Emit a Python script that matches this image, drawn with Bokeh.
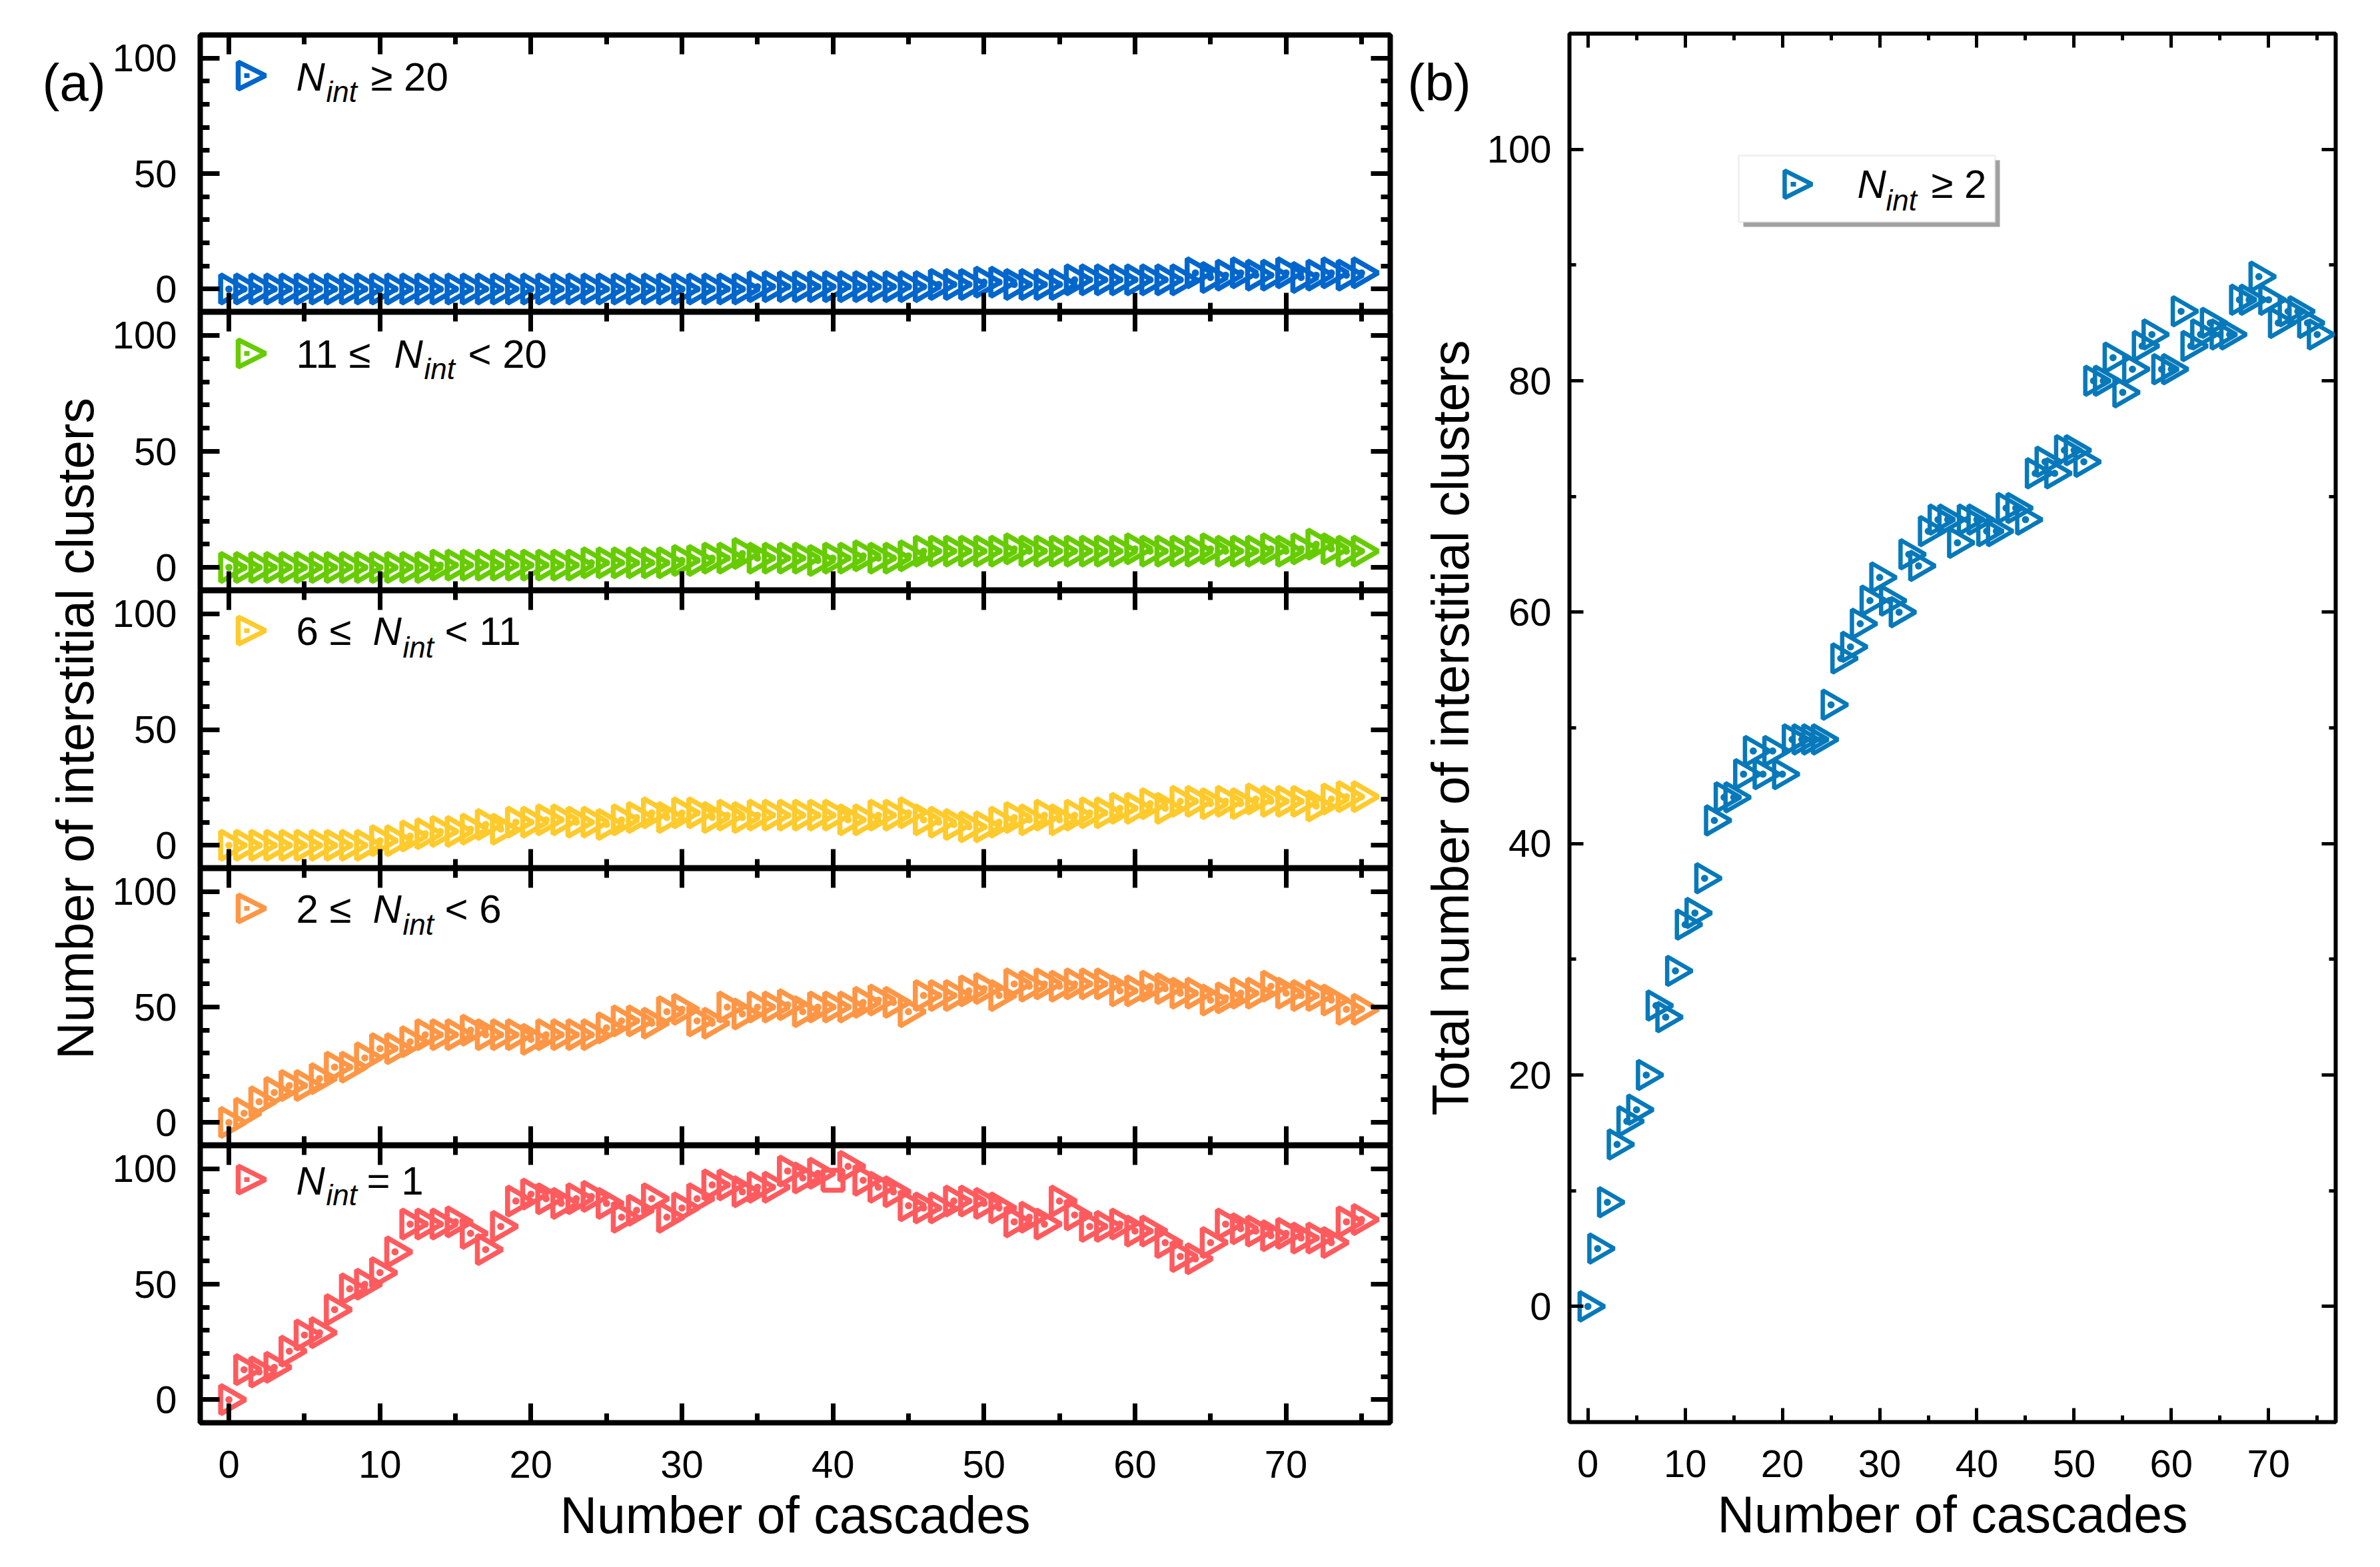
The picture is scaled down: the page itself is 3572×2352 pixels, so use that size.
import numpy as np
from bokeh.plotting import figure
from bokeh.models import (ColumnDataSource, Range1d, LinearAxis, FixedTicker, Label,
                          Arrow, NormalHead, BoxAnnotation)
from bokeh.layouts import row, column
from bokeh.embed import file_html
from bokeh.resources import INLINE

# ---------------- data ----------------
cascades = list(range(76))

n_ge20 = ([0] * 35 + [1] * 12 + [2] * 3 + [3] * 2 + [2] * 4 + [4] * 8 +
          [7, 5, 6, 7, 6, 6, 7, 5, 6, 7, 6, 7])

n_11_20 = ([0] * 14 + [1] * 10 + [2] * 6 + [3, 3, 4, 4, 6] +
           [4, 4, 4, 4, 3, 4, 4, 5, 4, 4, 5] + [7, 7, 7, 7, 7, 7, 8] +
           [7, 7, 7, 7, 7, 7, 7, 8, 7, 7, 7, 7, 8, 7, 7, 7, 8, 7, 8] + [10, 8, 7, 7])

n_6_11 = [0, 0, 0, 0, 0, 0, 0, 0, 0, 0,
          2, 2, 4, 5, 6, 6, 7, 9, 7, 10,
          10, 11, 11, 10, 10, 9, 11, 12, 14, 12,
          14, 14, 12, 13, 12, 13, 13, 13, 13, 13,
          13, 11, 11, 13, 13, 14, 11, 10, 9, 8,
          8, 10, 12, 11, 13, 11, 13, 14, 14, 16,
          16, 18, 16, 19, 19, 18, 19, 18, 20, 19,
          19, 19, 17, 20, 21, 21]

n_2_6 = [0, 4, 9, 13, 16, 16, 19, 24, 24, 28,
         32, 32, 35, 38, 38, 38, 40, 38, 38, 38,
         36, 38, 38, 38, 38, 41, 44, 44, 43, 48,
         49, 44, 43, 50, 47, 50, 50, 51, 48, 50,
         50, 50, 52, 53, 52, 48, 55, 55, 55, 57,
         58, 55, 60, 59, 60, 59, 60, 60, 60, 57,
         57, 59, 58, 56, 56, 53, 54, 56, 56, 59,
         56, 55, 55, 53, 49, 49]

n_eq1 = [0, 13, 12, 14, 21, 28, 29, 39, 48, 50,
         55, 64, 76, 76, 76, 77, 72, 65, 75, 86,
         89, 87, 85, 87, 88, 85, 79, 82, 87, 79,
         83, 87, 93, 93, 90, 92, 92, 99, 96, 98,
         95, 101, 95, 92, 90, 84, 83, 83, 86, 86,
         85, 83, 77, 79, 76, 86, 80, 75, 75, 76,
         73, 73, 68, 62, 61, 68, 76, 74, 73, 71,
         72, 70, 70, 68, 77, 78]

total_ge2 = [0, 5, 9, 14, 16, 17, 20, 26, 25, 29,
             33, 34, 37, 42, 44, 44, 46, 48, 46, 48,
             46, 49, 49, 49, 49, 52, 56, 57, 59, 61,
             63, 61, 60, 65, 64, 67, 68, 68, 66, 68,
             68, 67, 67, 69, 69, 68, 72, 73, 72, 74,
             74, 73, 80, 80, 82, 79, 81, 83, 84, 81,
             81, 86, 83, 84, 85, 84, 84, 87, 87, 89,
             87, 85, 86, 86, 85, 84]

square_point_index = 40   # the one point drawn as a square in the N_int = 1 series

x_major = [0, 10, 20, 30, 40, 50, 60, 70]
x_minor = list(range(0, 80, 5))
left_y_major = [0, 50, 100]
right_y_major = [0, 20, 40, 60, 80, 100]
y_minor = list(range(-10, 111, 10))

# legend texts: (text, italic?) segments
legend_segments = [
    [("N", True), ("int", True), ("\u2265 20", False)],
    [("11 \u2264", False), ("N", True), ("int", True), ("< 20", False)],
    [("6 \u2264", False), ("N", True), ("int", True), ("< 11", False)],
    [("2 \u2264", False), ("N", True), ("int", True), ("< 6", False)],
    [("N", True), ("int", True), ("= 1", False)],
]
right_legend_segments = [("N", True), ("int", True), ("\u2265 2", False)]

x_title = "Number of cascades"
left_y_title = "Number of interstitial clusters"
right_y_title = "Total number of interstitial clusters"

# ---------------- style / geometry ----------------
FONT = "Liberation Sans"
MID = 0.345            # baseline -> middle-of-text-box offset, in ems
X_RANGE = (-1.9, 76.9)
Y_RANGE = (-10, 110)
colors = ["#0066CC", "#66CC00", "#FFCA2C", "#FF9645", "#FF5B5E"]
RIGHT_COLOR = "#0779BA"
series = [n_ge20, n_11_20, n_6_11, n_2_6, n_eq1]
MARK = 43
KEY = 41

W_TOTAL, H_TOTAL = 3572, 2352
TITLE_W = 165
L_FRAME_LEFT, L_FRAME_W = 300, 1786
L_BORDER_R = 10
panel_tops = [52, 468, 886, 1303, 1719]
panel_heights = [416, 418, 417, 416, 416]
L_BOTTOM = H_TOTAL - (panel_tops[-1] + panel_heights[-1])
L_FIG_W = (L_FRAME_LEFT - TITLE_W) + L_FRAME_W + L_BORDER_R

B_LEFT = TITLE_W + L_FIG_W          # strip holding "(b)" and the right y title
B_W = 126
R_FIG_LEFT = B_LEFT + B_W
R_FRAME_LEFT, R_FRAME_W = 2355, 1150
R_FRAME_TOP, R_FRAME_H = 50, 2084
R_BOTTOM = H_TOTAL - R_FRAME_TOP - R_FRAME_H

# legend layout (pixels relative to each panel top)
leg_key_dy = [61, 62, 60, 60, 51]
leg_base_dy = [84, 84, 82, 82, 74]
leg_sub_dy = [100, 100, 100, 99, 89]
leg_text_x = [
    [444, 489, 556],
    [444, 591, 636, 702],
    [444, 559, 604, 667],
    [444, 559, 604, 667],
    [444, 489, 550],
]


def px2x(g, px):
    return X_RANGE[0] + (px - g["left"]) / g["width"] * (X_RANGE[1] - X_RANGE[0])


def py2y(g, py):
    return Y_RANGE[1] - (py - g["top"]) / g["height"] * (Y_RANGE[1] - Y_RANGE[0])


def add_axes(p, yticks, lw, tin, mtin, show_x, show_y, xtitle=None,
             x_std=42, y_std=35):
    xt = FixedTicker(ticks=x_major, minor_ticks=x_minor)
    yt = FixedTicker(ticks=yticks, minor_ticks=y_minor)
    for loc in ("below", "above", "left", "right"):
        ax = LinearAxis(ticker=xt if loc in ("below", "above") else yt)
        ax.axis_line_color = None
        ax.major_tick_in = tin
        ax.major_tick_out = 0
        ax.minor_tick_in = mtin
        ax.minor_tick_out = 0
        ax.major_tick_line_width = lw
        ax.minor_tick_line_width = lw
        ax.major_tick_line_color = "black"
        ax.minor_tick_line_color = "black"
        labelled = (loc == "below" and show_x) or (loc == "left" and show_y)
        if labelled:
            ax.major_label_text_font = FONT
            ax.major_label_text_font_size = "58px"
            ax.major_label_text_color = "black"
            ax.major_label_standoff = x_std if loc == "below" else y_std
            if loc == "below" and xtitle:
                ax.axis_label = xtitle
                ax.axis_label_text_font = FONT
                ax.axis_label_text_font_size = "77px"
                ax.axis_label_text_font_style = "normal"
                ax.axis_label_text_color = "black"
                ax.axis_label_standoff = 10
        else:
            ax.major_label_text_font_size = "0px"
            ax.major_label_text_color = None
            ax.major_label_standoff = 0
        p.add_layout(ax, loc)


def add_text(p, g, px, py_baseline, text, size, italic):
    py = py_baseline - MID * size
    p.add_layout(Label(x=px2x(g, px), y=py2y(g, py), text=text, text_font=FONT,
                       text_font_size=f"{size}px",
                       text_font_style="italic" if italic else "normal",
                       text_baseline="middle", text_align="left", text_color="black"))


def add_key(p, g, base_px, cy_px, color, lw, size=KEY):
    y = py2y(g, cy_px)
    p.add_layout(Arrow(end=NormalHead(size=size, fill_color=None, line_color=color,
                                      line_width=lw),
                       x_start=px2x(g, base_px - 20), y_start=y,
                       x_end=px2x(g, base_px + size), y_end=y, line_color=None))
    cx = base_px + 13
    p.add_layout(BoxAnnotation(left=px2x(g, cx - 4), right=px2x(g, cx + 4),
                               top=py2y(g, cy_px - 3.5), bottom=py2y(g, cy_px + 3.5),
                               fill_color=color, fill_alpha=1.0, line_color=None))


def text_strip(width):
    """A blank figure whose data units are canvas pixels (y measured from the top)."""
    f = figure(width=width, height=H_TOTAL, x_range=Range1d(0, width),
               y_range=Range1d(R_BOTTOM, H_TOTAL - R_FRAME_TOP),
               output_backend="svg", toolbar_location=None,
               min_border_left=0, min_border_right=0,
               min_border_top=R_FRAME_TOP, min_border_bottom=R_BOTTOM,
               x_axis_location=None, y_axis_location=None, outline_line_color=None)
    f.grid.visible = False
    return f


def strip_label(f, x, y_top, text, size, angle=0.0, align="left"):
    f.add_layout(Label(x=x, y=H_TOTAL - y_top, text=text, angle=angle,
                       text_align=align, text_baseline="middle", text_font=FONT,
                       text_font_size=f"{size}px", text_color="black"))


# ---------------- left strip: y title and "(a)" ----------------
tf = text_strip(TITLE_W)
strip_label(tf, 139 - MID * 77, 1093, left_y_title, 77, angle=np.pi / 2, align="center")
strip_label(tf, 63, 150 - MID * 78, "(a)", 78)

# ---------------- left stacked panels ----------------
panels = []
for k in range(5):
    top_b = panel_tops[0] if k == 0 else 0
    bot_b = L_BOTTOM if k == 4 else 0
    g = {"left": L_FRAME_LEFT, "width": L_FRAME_W, "top": panel_tops[k],
         "height": panel_heights[k]}
    p = figure(width=L_FIG_W, height=top_b + panel_heights[k] + bot_b,
               x_range=Range1d(*X_RANGE), y_range=Range1d(*Y_RANGE),
               output_backend="svg", toolbar_location=None,
               x_axis_location=None, y_axis_location=None,
               min_border_left=L_FRAME_LEFT - TITLE_W, min_border_right=L_BORDER_R,
               min_border_top=top_b, min_border_bottom=bot_b)
    p.grid.visible = False
    p.outline_line_color = "black"
    p.outline_line_width = 8
    p.background_fill_color = "white"
    p.border_fill_color = "white"
    add_axes(p, left_y_major, 7, 29, 14, show_x=(k == 4), show_y=True,
             xtitle=x_title if k == 4 else None)

    vals = series[k]
    if k == 4:
        markers = ["square" if i == square_point_index else "triangle_dot" for i in cascades]
        sizes = [30 if i == square_point_index else MARK for i in cascades]
    else:
        markers = ["triangle_dot"] * len(cascades)
        sizes = [MARK] * len(cascades)
    src = ColumnDataSource(dict(x=cascades, y=vals, marker=markers, size=sizes))
    p.scatter("x", "y", source=src, marker="marker", size="size", angle=-np.pi / 2,
              fill_color=None, line_color=colors[k], line_width=7.5)

    # legend key and text
    t = panel_tops[k]
    add_key(p, g, 357, t + leg_key_dy[k], colors[k], 7.5)
    for (txt, it), xpx in zip(legend_segments[k], leg_text_x[k]):
        is_sub = (txt == "int")
        add_text(p, g, xpx, t + (leg_sub_dy[k] if is_sub else leg_base_dy[k]), txt,
                 44 if is_sub else 60, it)
    panels.append(p)

left_col = column(*panels)

# ---------------- middle strip: "(b)" and right y title ----------------
bf = text_strip(B_W)
strip_label(bf, 2203 - MID * 77 - B_LEFT, 1092, right_y_title, 77, angle=np.pi / 2,
            align="center")
strip_label(bf, 2112 - B_LEFT, 150 - MID * 78, "(b)", 78)

# ---------------- right panel ----------------
rg = {"left": R_FRAME_LEFT, "width": R_FRAME_W, "top": R_FRAME_TOP, "height": R_FRAME_H}
rp = figure(width=W_TOTAL - R_FIG_LEFT, height=H_TOTAL,
            x_range=Range1d(*X_RANGE), y_range=Range1d(*Y_RANGE),
            output_backend="svg", toolbar_location=None,
            x_axis_location=None, y_axis_location=None,
            min_border_left=R_FRAME_LEFT - R_FIG_LEFT,
            min_border_right=W_TOTAL - R_FRAME_LEFT - R_FRAME_W,
            min_border_top=R_FRAME_TOP, min_border_bottom=R_BOTTOM)
rp.grid.visible = False
rp.outline_line_color = "black"
rp.outline_line_width = 6
add_axes(rp, right_y_major, 5, 21, 10, show_x=True, show_y=True,
         xtitle=x_title, x_std=42, y_std=27)

rsrc = ColumnDataSource(dict(x=cascades, y=total_ge2))
rp.scatter("x", "y", source=rsrc, marker="triangle_dot", size=MARK, angle=-np.pi / 2,
           fill_color=None, line_color=RIGHT_COLOR, line_width=6.5)

# legend box with shadow
rp.add_layout(BoxAnnotation(left=px2x(rg, 2616), right=px2x(rg, 3001),
                            top=py2y(rg, 240), bottom=py2y(rg, 340),
                            fill_color="#a0a0a0", fill_alpha=1.0, line_color=None))
rp.add_layout(BoxAnnotation(left=px2x(rg, 2609), right=px2x(rg, 2994),
                            top=py2y(rg, 233), bottom=py2y(rg, 333),
                            fill_color="white", fill_alpha=1.0,
                            line_color="#cccccc", line_width=3))
add_key(rp, rg, 2678, 276, RIGHT_COLOR, 6.5)
for (txt, it), xpx in zip(right_legend_segments, [2787, 2830, 2898]):
    is_sub = (txt == "int")
    add_text(rp, rg, xpx, 315 if is_sub else 297, txt, 44 if is_sub else 60, it)

layout = row(tf, left_col, bf, rp)
open("out.html", "w").write(file_html(layout, INLINE))
